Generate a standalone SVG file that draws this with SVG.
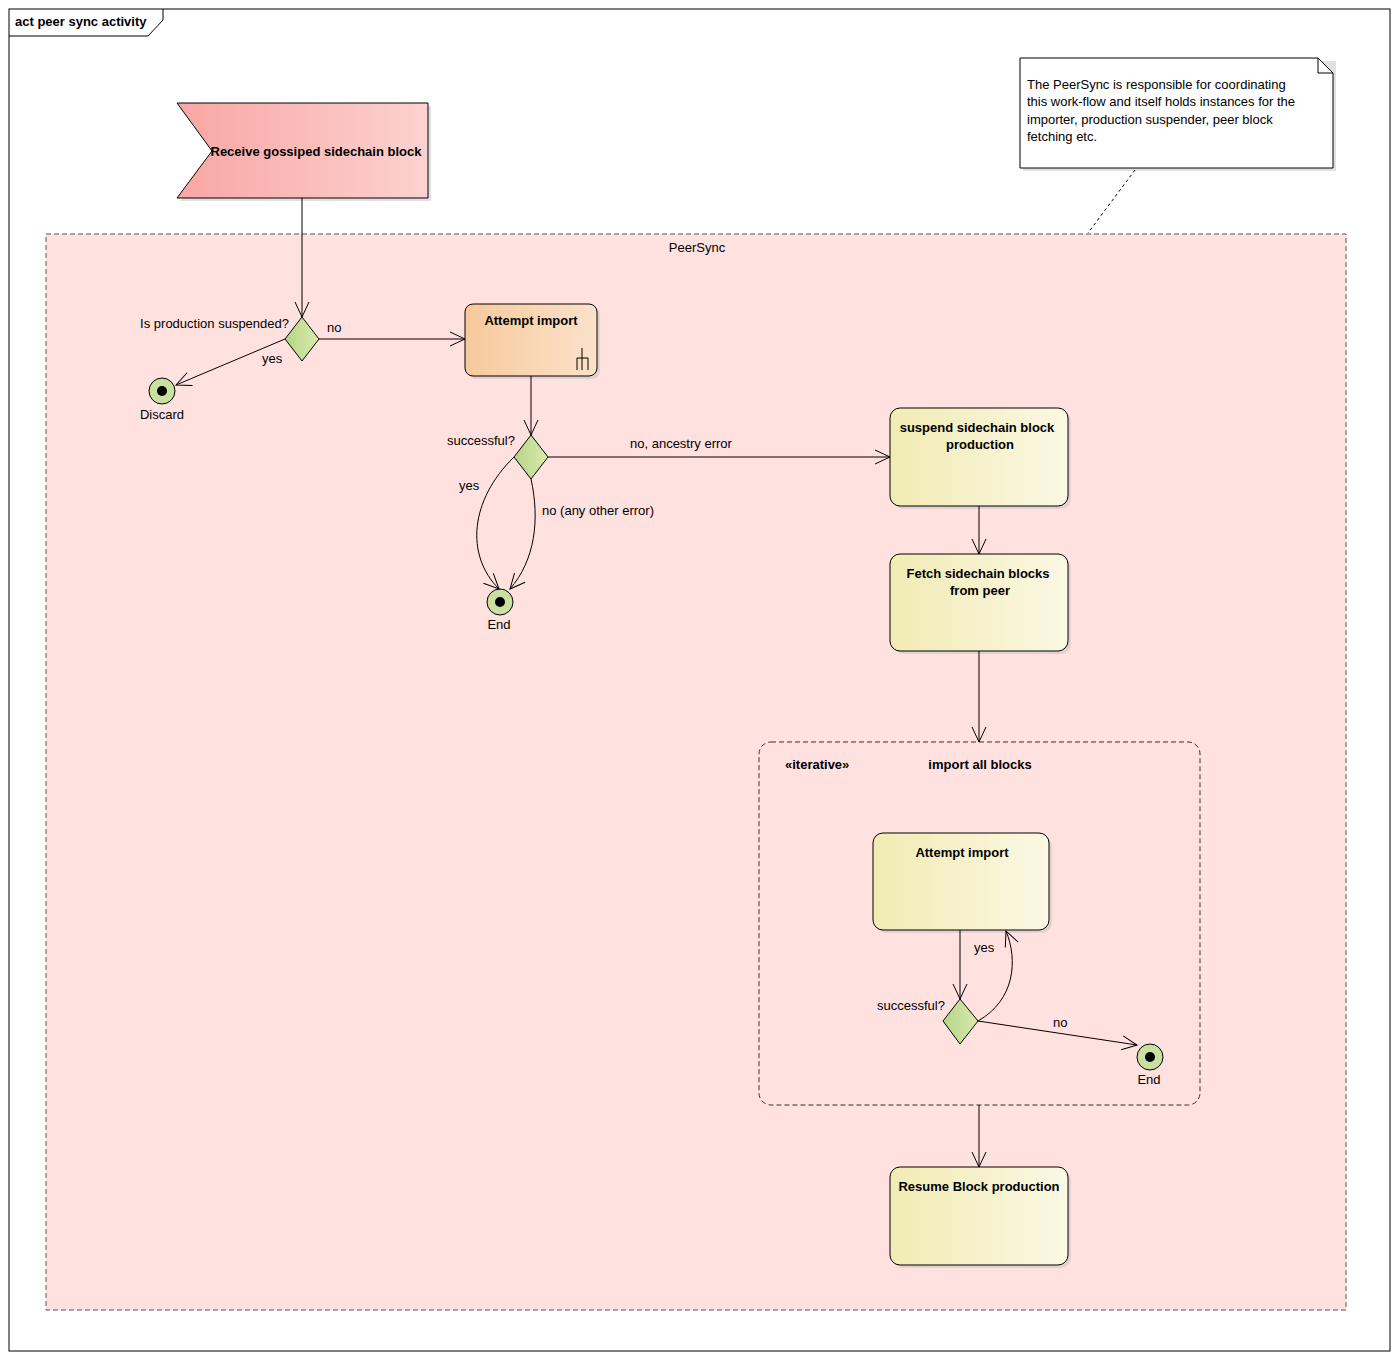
<svg xmlns="http://www.w3.org/2000/svg" width="1400" height="1359" viewBox="0 0 1400 1359">
<style>
text{font-family:"Liberation Sans",Arial,sans-serif;font-size:13px;fill:#000}
.b{font-weight:bold}
.m{text-anchor:middle}
.ln{stroke:#000;stroke-width:1;fill:none}
.act{stroke:#000;stroke-width:1;fill:url(#gy)}
.sh{fill:#c8c0c0;opacity:.5}
.dec{stroke:#000;fill:url(#gg)}
.fin{stroke:#000;fill:#c9e0a0}
</style>
<defs>
<linearGradient id="gy" x1="0" x2="1" y1="0" y2="0"><stop offset="0" stop-color="#f1ebb3"/><stop offset="1" stop-color="#fbf8e4"/></linearGradient>
<linearGradient id="go" x1="0" x2="1" y1="0" y2="0"><stop offset="0" stop-color="#f7c99c"/><stop offset="1" stop-color="#fbe2ca"/></linearGradient>
<linearGradient id="gr" x1="0" x2="1" y1="0" y2="0"><stop offset="0" stop-color="#f8a6a3"/><stop offset="1" stop-color="#fcd2d0"/></linearGradient>
<linearGradient id="gg" x1="0" x2="1" y1="0" y2="0"><stop offset="0" stop-color="#b5d585"/><stop offset="1" stop-color="#d9eaae"/></linearGradient>
<marker id="a" markerUnits="userSpaceOnUse" markerWidth="18" markerHeight="18" refX="16" refY="8" orient="auto"><path d="M1,1 L16,8 L1,15" fill="none" stroke="#000"/></marker>
</defs>
<rect width="1400" height="1359" fill="#fff"/>
<g id="frame">
<rect x="9" y="9" width="1381" height="1342" fill="none" stroke="#000"/>
<path d="M9,36 L148,36 L163,20 L163,9" fill="none" stroke="#000"/>
<text x="15" y="26" class="b">act peer sync activity</text>
</g>
<g id="peersync">
<rect x="46" y="234" width="1300" height="1076" fill="#ffe2e0" stroke="#555" stroke-dasharray="5,3"/>
<text x="697" y="252" class="m">PeerSync</text>
</g>
<g id="note">
<rect x="1023" y="61" width="313" height="110" class="sh"/>
<path d="M1020,58 L1318,58 L1333,73 L1333,168 L1020,168 Z" fill="#fff" stroke="#000"/>
<path d="M1318,58 L1318,73 L1333,73" fill="none" stroke="#000"/>
<text x="1027" y="89">The PeerSync is responsible for coordinating</text>
<text x="1027" y="106">this work-flow and itself holds instances for the</text>
<text x="1027" y="124">importer, production suspender, peer block</text>
<text x="1027" y="141">fetching etc.</text>
</g>
<g id="signal">
<polygon points="180,106 431,106 431,201 180,201 215,154" class="sh"/>
<polygon points="177,103 428,103 428,198 177,198 212,151" fill="url(#gr)" stroke="#000"/>
<text x="316" y="156" class="b m">Receive gossiped sidechain block</text>
</g>
<g id="dec1"><polygon points="302,317 319,339 302,361 285,339" class="dec"/><text x="289" y="328" text-anchor="end">Is production suspended?</text></g>
<g id="discard"><circle cx="162" cy="391" r="13" class="fin"/><circle cx="162" cy="391" r="5"/><text x="162" y="419" class="m">Discard</text></g>
<g id="attempt1">
<rect x="468" y="307" width="132" height="72" rx="8" class="sh"/>
<rect x="465" y="304" width="132" height="72" rx="8" fill="url(#go)" stroke="#000"/>
<text x="531" y="325" class="b m">Attempt import</text>
<path d="M582,348 V370 M577,370 V358 H588 V370" fill="none" stroke="#000"/>
</g>
<g id="dec2"><polygon points="531,435 548,457 531,479 514,457" class="dec"/><text x="447" y="445">successful?</text></g>
<g id="end1"><circle cx="500" cy="602" r="13" class="fin"/><circle cx="500" cy="602" r="5"/><text x="499" y="629" class="m">End</text></g>
<g id="suspend">
<rect x="893" y="411" width="178" height="98" rx="10" class="sh"/>
<rect x="890" y="408" width="178" height="98" rx="10" class="act"/>
<text x="977" y="432" class="b m">suspend sidechain block</text><text x="980" y="449" class="b m">production</text>
</g>
<g id="fetch">
<rect x="893" y="557" width="178" height="97" rx="10" class="sh"/>
<rect x="890" y="554" width="178" height="97" rx="10" class="act"/>
<text x="978" y="578" class="b m">Fetch sidechain blocks</text><text x="980" y="595" class="b m">from peer</text>
</g>
<g id="iterative">
<rect x="759" y="742" width="441" height="363" rx="12" fill="none" stroke="#333" stroke-dasharray="5,3"/>
<text x="785" y="769" class="b">«iterative»</text><text x="980" y="769" class="b m">import all blocks</text>
</g>
<g id="attempt2">
<rect x="876" y="836" width="176" height="97" rx="10" class="sh"/>
<rect x="873" y="833" width="176" height="97" rx="10" class="act"/>
<text x="962" y="857" class="b m">Attempt import</text>
</g>
<g id="dec3"><polygon points="960,999 978,1021 960,1044 943,1021" class="dec"/><text x="877" y="1010">successful?</text></g>
<g id="end2"><circle cx="1150" cy="1057" r="13" class="fin"/><circle cx="1150" cy="1057" r="5"/><text x="1149" y="1084" class="m">End</text></g>
<g id="resume">
<rect x="893" y="1170" width="178" height="98" rx="10" class="sh"/>
<rect x="890" y="1167" width="178" height="98" rx="10" class="act"/>
<text x="979" y="1191" class="b m">Resume Block production</text>
</g>
<g id="connectors">
<path class="ln" d="M1135,170 L1088,233" stroke-dasharray="3,3"/>
<path class="ln" d="M302,198 V317" marker-end="url(#a)"/>
<path class="ln" d="M319,339 H465" marker-end="url(#a)"/>
<text x="327" y="332">no</text>
<path class="ln" d="M285,339 L176,385" marker-end="url(#a)"/>
<text x="262" y="363">yes</text>
<path class="ln" d="M531,376 V435" marker-end="url(#a)"/>
<path class="ln" d="M548,457 H890" marker-end="url(#a)"/>
<text x="630" y="448">no, ancestry error</text>
<path class="ln" d="M514,457 C470,500 465,555 499,589" marker-end="url(#a)"/>
<text x="459" y="490">yes</text>
<path class="ln" d="M531,479 C540,520 535,560 510,589" marker-end="url(#a)"/>
<text x="542" y="515">no (any other error)</text>
<path class="ln" d="M979,506 V554" marker-end="url(#a)"/>
<path class="ln" d="M979,651 V742" marker-end="url(#a)"/>
<path class="ln" d="M960,930 V999" marker-end="url(#a)"/>
<path class="ln" d="M978,1021 C1015,1000 1018,960 1006,931" marker-end="url(#a)"/>
<text x="974" y="952">yes</text>
<path class="ln" d="M978,1021 L1137,1045" marker-end="url(#a)"/>
<text x="1053" y="1027">no</text>
<path class="ln" d="M979,1105 V1167" marker-end="url(#a)"/>
</g>
</svg>
